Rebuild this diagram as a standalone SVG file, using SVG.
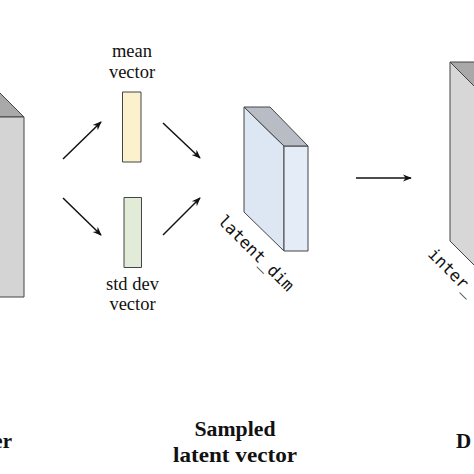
<svg xmlns="http://www.w3.org/2000/svg" width="474" height="474" viewBox="0 0 474 474">
<style>
.edge{stroke:#444;stroke-width:1;stroke-linejoin:round}
.gfront{fill:#d4d4d4}
.gtop{fill:#a9a9a9}
.lbl{font-family:"Liberation Serif","Times New Roman",serif;font-size:18.5px;fill:#111;text-anchor:middle}
.cap{font-family:"Liberation Serif","Times New Roman",serif;font-size:21px;font-weight:bold;fill:#111}
.mono{font-family:"DejaVu Sans Mono","Liberation Mono",monospace;font-size:16.5px;fill:#111}
.arr{stroke:#111;stroke-width:1.5;fill:none;marker-end:url(#ah)}
</style>
<defs>
<marker id="ah" viewBox="0 0 10 10" refX="9" refY="5" markerWidth="9" markerHeight="9" markerUnits="userSpaceOnUse" orient="auto">
<path d="M0,1 L10,5 L0,9 L3,5 z" fill="#111"/>
</marker>
</defs>
<rect width="474" height="474" fill="#fff"/>
<g id="encoder">
<polygon class="gtop edge" points="-240,83 -10,83 24,117 -206,117"/>
<rect class="gfront edge" x="-100" y="117" width="124" height="180"/>
<text class="cap" x="12" y="448" text-anchor="end">er</text>
</g>
<g id="mean">
<text class="lbl" x="132" y="57">mean</text>
<text class="lbl" x="132" y="78">vector</text>
<rect class="edge" x="122.5" y="92" width="18.5" height="70" fill="#fbf1cc"/>
</g>
<g id="stddev">
<rect class="edge" x="124" y="197.5" width="17.5" height="70" fill="#e2ebd8"/>
<text class="lbl" x="132.5" y="290">std dev</text>
<text class="lbl" x="132.5" y="310">vector</text>
</g>
<g id="latent">
<polygon class="edge" points="244,107 284,146 284,251 244,212" fill="#dde6f3"/>
<rect class="edge" x="284" y="146" width="24" height="105" fill="#e4ecf7"/>
<polygon class="edge" points="244,107 270,107 308,146 284,146" fill="#b8bcc4"/>
<text class="mono" x="217" y="222" transform="rotate(45 217 222)">latent_dim</text>
<text class="cap" x="235" y="436" text-anchor="middle" textLength="81" lengthAdjust="spacingAndGlyphs">Sampled</text>
<text class="cap" x="235" y="462" text-anchor="middle" textLength="124" lengthAdjust="spacingAndGlyphs">latent vector</text>
</g>
<g id="decoder">
<polygon class="edge" points="450,62 480,92 480,271 450,241" fill="#d7d7d7"/>
<polygon class="edge gtop" points="450,62 560,62 590,92 480,92"/>
<text class="mono" x="427" y="255" transform="rotate(45 427 255)">inter_</text>
<text class="cap" x="456" y="448">D</text>
</g>
<g id="connectors">
<line class="arr" x1="63" y1="159" x2="101" y2="122"/>
<line class="arr" x1="63" y1="198" x2="101" y2="235"/>
<line class="arr" x1="163" y1="123" x2="200" y2="158"/>
<line class="arr" x1="163" y1="235" x2="200" y2="198"/>
<line class="arr" x1="356" y1="178" x2="411" y2="178"/>
</g>
</svg>
